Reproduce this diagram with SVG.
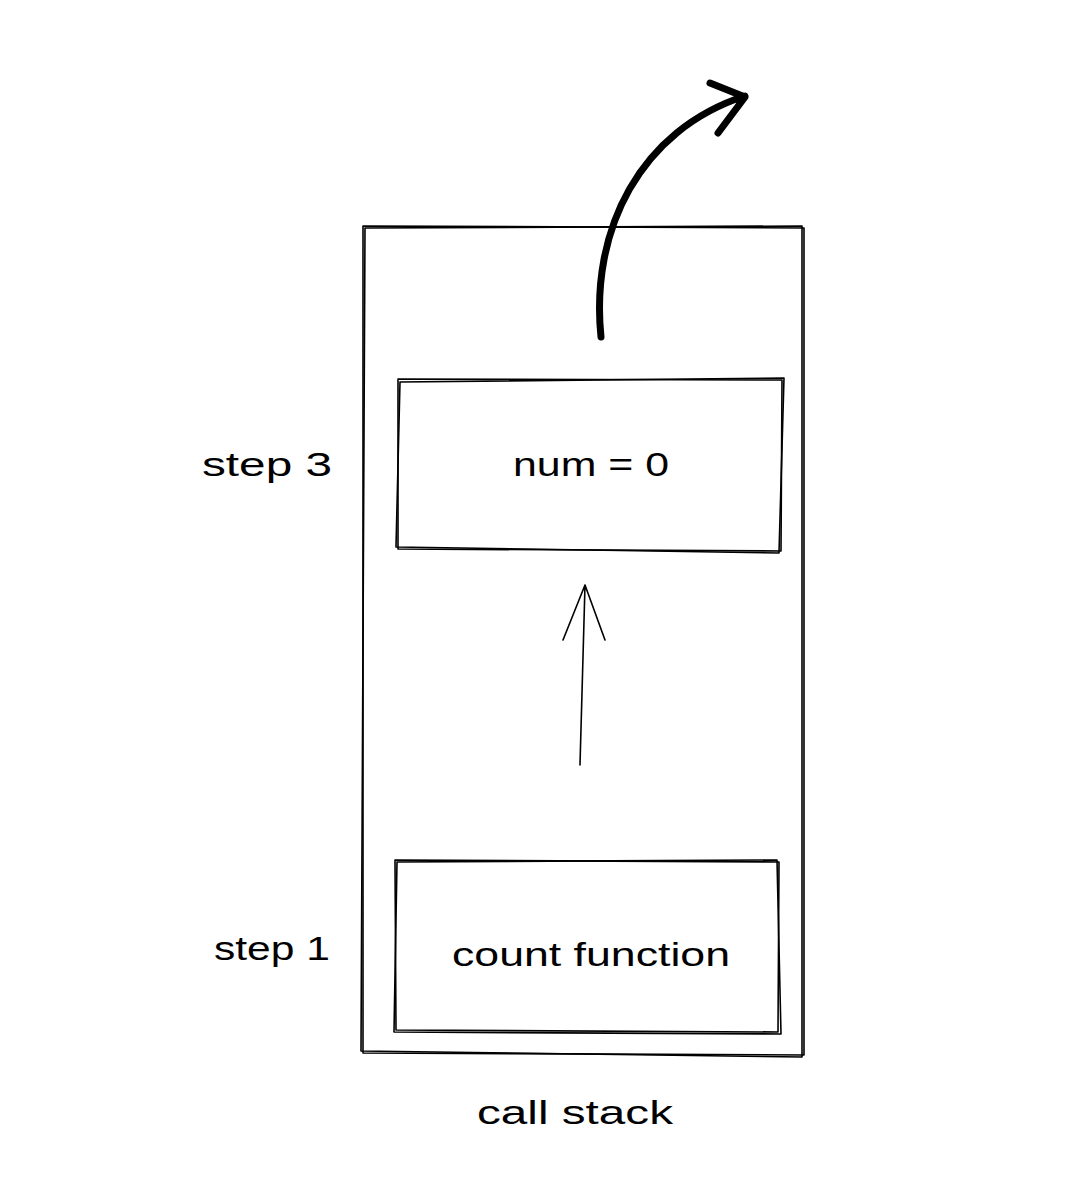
<svg xmlns="http://www.w3.org/2000/svg" width="1088" height="1184" viewBox="0 0 1088 1184">
<style>
.s{fill:none;stroke:#000;stroke-width:1.6;stroke-linecap:round;stroke-linejoin:round}
.t{font-family:"Liberation Sans",Arial,sans-serif;font-size:34px;fill:#000;text-anchor:middle}
</style>
<rect width="1088" height="1184" fill="#fff"/>
<g id="callstack">
<path class="s" d="M363 226 L804 228 L804 1055 L363 1053 Z"/>
<path class="s" d="M365 228 L802 226 L802 1057 L361 1051 Z"/>
<text class="t" x="575" y="1124" textLength="196" lengthAdjust="spacingAndGlyphs">call stack</text>
</g>
<g id="num0">
<path class="s" d="M398 379 L782 380 L781 551 L398 549 Z"/>
<path class="s" d="M400 382 L784 378 L779 553 L396 547 Z"/>
<text class="t" x="591" y="476" textLength="156" lengthAdjust="spacingAndGlyphs">num = 0</text>
</g>
<g id="countfn">
<path class="s" d="M395 860 L779 862 L778 1032 L396 1030 Z"/>
<path class="s" d="M397 862 L777 860 L781 1034 L394 1032 Z"/>
<text class="t" x="591" y="966" textLength="278" lengthAdjust="spacingAndGlyphs">count function</text>
</g>
<g id="labels">
<text class="t" x="267" y="476" textLength="130" lengthAdjust="spacingAndGlyphs">step 3</text>
<text class="t" x="272" y="960" textLength="116" lengthAdjust="spacingAndGlyphs">step 1</text>
</g>
<g id="connectors">
<path class="s" d="M580 765 L585 585 M585 585 L563 640 M585 585 L605 640"/>
<path class="s" style="stroke-width:7" d="M601 337 C590 230 640 130 745 96 M710 83 L745 97 L718 133"/>
</g>
</svg>
